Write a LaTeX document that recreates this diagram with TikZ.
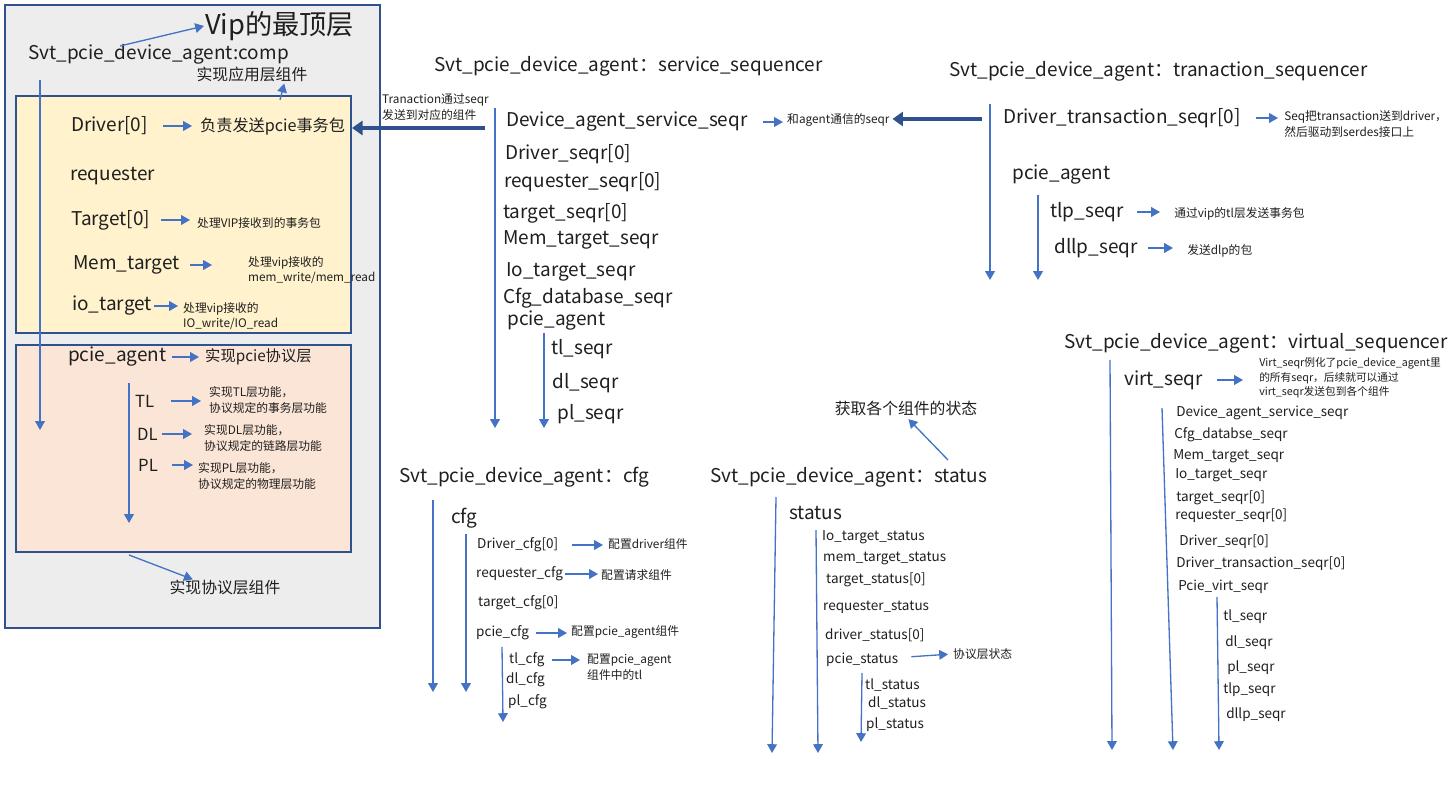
\documentclass[tikz,border=0pt]{standalone}
\usepackage{fontspec}
\setmainfont{Noto Sans CJK SC}
\usetikzlibrary{positioning,fit,arrows.meta}
\definecolor{arrblue}{HTML}{4472C4}
\definecolor{edgeblue}{HTML}{2F528F}
\definecolor{compgray}{HTML}{EDEDED}
\definecolor{appyellow}{HTML}{FFF2CC}
\definecolor{protpink}{HTML}{FBE5D6}
\definecolor{txt}{HTML}{1F1F1F}

\begin{document}
\begin{tikzpicture}[x=0.02cm,y=-0.02cm,>={Triangle[width=5.5pt,length=5pt]},
    lbl/.style={anchor=west,inner sep=0.5pt,text=txt,font=\fontsize{10.8}{13}\selectfont},
    item/.style={anchor=west,inner sep=0.5pt,text=txt,font=\fontsize{7.7}{9}\selectfont},
    note/.style={anchor=west,inner sep=0.5pt,align=left,text=txt,font=\fontsize{6.7}{9}\selectfont},
    captxt/.style={inner sep=0.5pt,text=txt,font=\fontsize{9}{11}\selectfont},
    arr/.style={->,draw=arrblue,line width=0.75pt},
    gap/.style 2 args={shorten <={#1*0.02cm},shorten >={#2*0.02cm}},
    bigarr/.style={draw=edgeblue,line width=2.2pt,-{Triangle[width=8pt,length=6pt]}},
    box/.style={draw=edgeblue,line width=1.1pt,inner sep=0pt}]
  \fill[white] (0,0) rectangle (1452,803);
  \useasboundingbox (0,0) rectangle (1452,803);

  % comp: top level of the vip
  \coordinate (compnw) at (5,5);
  \coordinate (compse) at (380,628);
  \node[box,fill=compgray,fit=(compnw)(compse)] (comp) {};
  \coordinate (appnw) at (16,96);
  \coordinate (appse) at (351,333);
  \node[box,fill=appyellow,fit=(appnw)(appse)] (app) {};
  \coordinate (protnw) at (16,345);
  \coordinate (protse) at (351,552);
  \node[box,fill=protpink,fit=(protnw)(protse)] (prot) {};

  \node[anchor=west,inner sep=0.5pt,text=txt,font=\fontsize{15.5}{18}\selectfont] (vip) at (204,26) {Vip的最顶层};
  \node[lbl] (comptitle) at (27,54) {Svt\_pcie\_device\_agent:comp};
  \coordinate (compup) at (120,46);
  \draw[arr] (compup) -- (vip.west);
  \node[captxt] (appcap) at (252,75) {实现应用层组件};
  \coordinate (appup) at (280,100);
  \draw[arr] (appup) -- (appcap.-15);
  \coordinate (compv1) at (40,80);
  \coordinate (compv2) at (40,430);
  \draw[arr] (compv1) -- (compv2);

  % application layer
  \node[lbl] (drv) at (70,126) {Driver[0]};
  \node[note,font=\fontsize{9.2}{11}\selectfont] (drvnote) at (199,127) {负责发送pcie事务包};
  \draw[arr,gap={14}{7}] (drv) -- (drv -| drvnote.west);
  \node[lbl] (req) at (69,176) {requester};
  \node[lbl] (tgt) at (70,220) {Target[0]};
  \node[note] (tgtnote) at (196,223) {处理VIP接收到的事务包};
  \draw[arr,gap={10}{6}] (tgt) -- (tgt -| tgtnote.west);
  \node[lbl] (memtgt) at (72,265) {Mem\_target};
  \node[note] (memnote) at (247,270) {处理vip接收的\\mem\_write/mem\_read};
  \draw[arr,gap={9}{35}] (memtgt) -- (memtgt -| memnote.west);
  \node[lbl] (iotgt) at (71,306) {io\_target};
  \node[note] (ionote) at (182,316) {处理vip接收的\\IO\_write/IO\_read};
  \draw[arr,gap={1}{4}] (iotgt) -- (iotgt -| ionote.west);

  % protocol layer
  \node[lbl] (pcieag) at (67,357) {pcie\_agent};
  \node[captxt,anchor=west,font=\fontsize{8.7}{11}\selectfont] (pcienote) at (204,357) {实现pcie协议层};
  \draw[arr,gap={4}{5}] (pcieag) -- (pcieag -| pcienote.west);
  \coordinate (protv1) at (129,383);
  \coordinate (protv2) at (129,523);
  \draw[arr] (protv1) -- (protv2);
  \node[lbl,font=\fontsize{9.5}{12}\selectfont] (tl) at (134,401) {TL};
  \node[note] (tlnote) at (208,400) {实现TL层功能，\\协议规定的事务层功能};
  \draw[arr,gap={15}{7}] (tl) -- (tl -| tlnote.west);
  \node[lbl,font=\fontsize{9.5}{12}\selectfont] (dl) at (136,434) {DL};
  \node[note] (dlnote) at (203,438) {实现DL层功能，\\协议规定的链路层功能};
  \draw[arr,gap={3}{11}] (dl) -- (dl -| dlnote.west);
  \node[lbl,font=\fontsize{9.5}{12}\selectfont] (pl) at (137,465) {PL};
  \node[note] (plnote) at (197,476) {实现PL层功能，\\协议规定的物理层功能};
  \draw[arr,gap={13}{4}] (pl) -- (pl -| plnote.west);
  \coordinate (protdown) at (129,555);
  \node[captxt] (protcap) at (225,588) {实现协议层组件};
  \draw[arr] (protdown) -- (protcap.165);

  % service sequencer
  \node[lbl] (svctitle) at (433,66) {Svt\_pcie\_device\_agent：service\_sequencer};
  \node[note] (trannote) at (381,107) {Tranaction通过seqr\\发送到对应的组件};
  \coordinate (svcout) at (485,128);
  \draw[bigarr] (svcout) -- (svcout -| app.east);
  \coordinate (svcv1) at (495,108);
  \coordinate (svcv2) at (495,428);
  \draw[arr] (svcv1) -- (svcv2);
  \node[lbl] (svcseqr) at (505,122) {Device\_agent\_service\_seqr};
  \node[note] (svcnote) at (786,120) {和agent通信的seqr};
  \draw[arr,gap={14}{3}] (svcseqr) -- (svcseqr -| svcnote.west);
  \node[lbl] (drvseqr) at (504,154) {Driver\_seqr[0]};
  \node[lbl] (reqseqr) at (503,182) {requester\_seqr[0]};
  \node[lbl] (tgtseqr) at (502,213) {target\_seqr[0]};
  \node[lbl] (memseqr) at (502,240) {Mem\_target\_seqr};
  \node[lbl] (ioseqr) at (505,272) {Io\_target\_seqr};
  \node[lbl] (cfgdbseqr) at (502,298) {Cfg\_database\_seqr};
  \node[lbl] (svcpcie) at (506,321) {pcie\_agent};
  \coordinate (svcv3) at (544,333);
  \coordinate (svcv4) at (544,428);
  \draw[arr] (svcv3) -- (svcv4);
  \node[lbl] (tlseqr) at (550,349) {tl\_seqr};
  \node[lbl] (dlseqr) at (551,383) {dl\_seqr};
  \node[lbl] (plseqr) at (556,414) {pl\_seqr};

  % transaction sequencer
  \node[lbl] (trtitle) at (948,71) {Svt\_pcie\_device\_agent：tranaction\_sequencer};
  \coordinate (trout) at (982,119);
  \draw[bigarr,shorten >=1pt] (trout) -- (trout -| svcnote.east);
  \coordinate (trv1) at (990,104);
  \coordinate (trv2) at (990,280);
  \draw[arr] (trv1) -- (trv2);
  \node[lbl] (drvtrseqr) at (1002,118) {Driver\_transaction\_seqr[0]};
  \node[note] (drvtrnote) at (1283,124) {Seq把transaction送到driver，\\然后驱动到serdes接口上};
  \draw[arr,gap={14}{5}] (drvtrseqr) -- (drvtrseqr -| drvtrnote.west);
  \node[lbl] (trpcie) at (1011,175) {pcie\_agent};
  \coordinate (trv3) at (1038,195);
  \coordinate (trv4) at (1038,280);
  \draw[arr] (trv3) -- (trv4);
  \node[lbl] (tlpseqr) at (1049,212) {tlp\_seqr};
  \node[note] (tlpnote) at (1173,214) {通过vip的tl层发送事务包};
  \draw[arr,gap={12}{13}] (tlpseqr) -- (tlpseqr -| tlpnote.west);
  \node[lbl] (dllpseqr) at (1053,248) {dllp\_seqr};
  \node[note] (dllpnote) at (1186,251) {发送dlp的包};
  \draw[arr,gap={9}{13}] (dllpseqr) -- (dllpseqr -| dllpnote.west);

  % virtual sequencer
  \node[lbl] (virttitle) at (1063,343) {Svt\_pcie\_device\_agent：virtual\_sequencer};
  \coordinate (virtv1) at (1110,360);
  \coordinate (virtv2) at (1112,750);
  \draw[arr] (virtv1) -- (virtv2);
  \node[lbl] (virtseqr) at (1123,380) {virt\_seqr};
  \node[note,font=\fontsize{6.1}{8.3}\selectfont] (virtnote) at (1258,378) {Virt\_seqr例化了pcie\_device\_agent里\\的所有seqr，后续就可以通过\\virt\_seqr发送包到各个组件};
  \draw[arr,gap={13}{15}] (virtseqr) -- (virtseqr -| virtnote.west);
  \coordinate (virtv3) at (1162,408);
  \coordinate (virtv4) at (1173,750);
  \draw[arr] (virtv3) -- (virtv4);
  \node[item] (vsvc) at (1175,413) {Device\_agent\_service\_seqr};
  \node[item] (vcfgdb) at (1173,435) {Cfg\_databse\_seqr};
  \node[item] (vmem) at (1172,456) {Mem\_target\_seqr};
  \node[item] (vio) at (1174,475) {Io\_target\_seqr};
  \node[item] (vtgt) at (1175,498) {target\_seqr[0]};
  \node[item] (vreq) at (1174,516) {requester\_seqr[0]};
  \node[item] (vdrv) at (1178,542) {Driver\_seqr[0]};
  \node[item] (vdrvtr) at (1175,564) {Driver\_transaction\_seqr[0]};
  \node[item] (vpcie) at (1177,587) {Pcie\_virt\_seqr};
  \coordinate (virtv5) at (1217,597);
  \coordinate (virtv6) at (1219,750);
  \draw[arr] (virtv5) -- (virtv6);
  \node[item] (vtl) at (1222,617) {tl\_seqr};
  \node[item] (vdl) at (1224,643) {dl\_seqr};
  \node[item] (vpl) at (1226,668) {pl\_seqr};
  \node[item] (vtlp) at (1222,690) {tlp\_seqr};
  \node[item] (vdllp) at (1225,715) {dllp\_seqr};

  % cfg
  \node[lbl] (cfgtitle) at (398,477) {Svt\_pcie\_device\_agent：cfg};
  \coordinate (cfgv1) at (433,500);
  \coordinate (cfgv2) at (433,692);
  \draw[arr] (cfgv1) -- (cfgv2);
  \node[lbl] (cfg) at (450,518) {cfg};
  \coordinate (cfgv3) at (466,534);
  \coordinate (cfgv4) at (466,692);
  \draw[arr] (cfgv3) -- (cfgv4);
  \node[item] (drvcfg) at (476,545) {Driver\_cfg[0]};
  \node[note] (drvcfgnote) at (607,544) {配置driver组件};
  \draw[arr,gap={13}{4}] (drvcfg) -- (drvcfg -| drvcfgnote.west);
  \node[item] (reqcfg) at (475,574) {requester\_cfg};
  \node[note] (reqcfgnote) at (600,575) {配置请求组件};
  \draw[arr,gap={1}{2}] (reqcfg) -- (reqcfg -| reqcfgnote.west);
  \node[item] (tgtcfg) at (477,603) {target\_cfg[0]};
  \node[item] (pciecfg) at (475,633) {pcie\_cfg};
  \node[note] (pciecfgnote) at (570,632) {配置pcie\_agent组件};
  \draw[arr,gap={6}{3}] (pciecfg) -- (pciecfg -| pciecfgnote.west);
  \coordinate (cfgv5) at (502,647);
  \coordinate (cfgv6) at (503,722);
  \draw[arr] (cfgv5) -- (cfgv6);
  \node[item] (tlcfg) at (508,660) {tl\_cfg};
  \node[note] (tlcfgnote) at (586,667) {配置pcie\_agent\\组件中的tl};
  \draw[arr,gap={6}{6}] (tlcfg) -- (tlcfg -| tlcfgnote.west);
  \node[item] (dlcfg) at (505,680) {dl\_cfg};
  \node[item] (plcfg) at (507,702) {pl\_cfg};

  % status
  \node[captxt] (statcap) at (906,408) {获取各个组件的状态};
  \node[lbl] (stattitle) at (709,477) {Svt\_pcie\_device\_agent：status};
  \coordinate (statup) at (948,460);
  \draw[arr,shorten >=2pt] (statup) -- (statcap.south);
  \coordinate (statv1) at (776,497);
  \coordinate (statv2) at (772,753);
  \draw[arr] (statv1) -- (statv2);
  \node[lbl] (status) at (788,513) {status};
  \coordinate (statv3) at (816,530);
  \coordinate (statv4) at (818,753);
  \draw[arr] (statv3) -- (statv4);
  \node[item] (iostat) at (821,537) {Io\_target\_status};
  \node[item] (memstat) at (822,558) {mem\_target\_status};
  \node[item] (tgtstat) at (825,580) {target\_status[0]};
  \node[item] (reqstat) at (822,607) {requester\_status};
  \node[item] (drvstat) at (824,635) {driver\_status[0]};
  \node[item] (pciestat) at (825,660) {pcie\_status};
  \node[note] (pciestatnote) at (952,654) {协议层状态};
  \draw[arr,gap={12}{4}] (pciestat) -- (pciestatnote.west);
  \coordinate (statv5) at (862,673);
  \coordinate (statv6) at (861,742);
  \draw[arr] (statv5) -- (statv6);
  \node[item] (tlstat) at (864,685) {tl\_status};
  \node[item] (dlstat) at (867,703) {dl\_status};
  \node[item] (plstat) at (865,725) {pl\_status};
\end{tikzpicture}
\end{document}
